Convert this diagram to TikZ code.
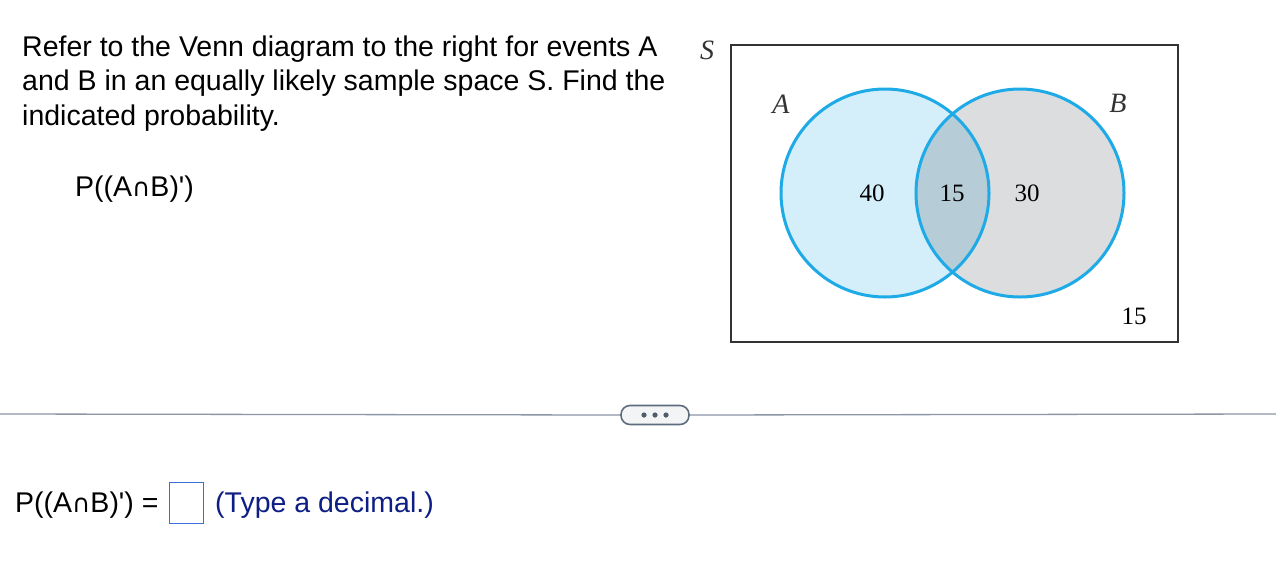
\documentclass[tikz,border=0pt]{standalone}
\usepackage{fontspec}
\newfontfamily\arial{Liberation Sans}
\newfontfamily\serifm{Liberation Serif}
\newfontfamily\djv{DejaVu Sans}
\newcommand{\capsym}{{\djv\fontsize{25}{26}\selectfont ∩}}
\definecolor{afill}{HTML}{D4EEFA}
\definecolor{bfill}{HTML}{DCDDDF}
\definecolor{abfill}{HTML}{B6CDD8}
\definecolor{vstroke}{HTML}{1EAAE6}
\definecolor{rule}{HTML}{8C96A6}
\definecolor{btnstroke}{HTML}{5E6D7D}
\definecolor{btnfill}{HTML}{F3F4F6}
\definecolor{boxblue}{HTML}{3A6FD8}
\definecolor{navy}{HTML}{0D1E84}
\begin{document}
\begin{tikzpicture}[x=1pt,y=-1pt,
  body/.style={font=\arial\fontsize{28.5}{35}\selectfont, anchor=base west, inner sep=0pt},
  vlab/.style={font=\serifm\fontsize{25}{26}\selectfont, inner sep=0pt},
  setlab/.style={font=\serifm\itshape\fontsize{28}{30}\selectfont, text=black!80, inner sep=0pt}]
\useasboundingbox (0,0) rectangle (1276,574);
\fill[white] (0,0) rectangle (1276,574);
% question text
\node[body] (l1) at (22,56) {Refer to the Venn diagram to the right for events A};
\node[body] (l2) at (22,90) {and B in an equally likely sample space S. Find the};
\node[body] (l3) at (22,125) {indicated probability.};
\node[body] (q) at (75,196) {P((A\capsym B)')};
% Venn diagram
\node[draw=black!80, line width=2pt, minimum width=447pt, minimum height=297pt, inner sep=0pt, anchor=north west] (S) at (730,44) {};
\fill[afill] (885,193) circle (104);
\fill[bfill] (1020,193) circle (104);
\begin{scope}
\clip (885,193) circle (104);
\fill[abfill] (1020,193) circle (104);
\end{scope}
\draw[vstroke, line width=3pt] (885,193) circle (104);
\draw[vstroke, line width=3pt] (1020,193) circle (104);
\node[setlab] (Slab) at (707,50) {S};
\node[setlab] (Alab) at (781,104) {A};
\node[setlab] (Blab) at (1118,103) {B};
\node[vlab] (n40) at (872,193) {40};
\node[vlab] (n15) at (952,193) {15};
\node[vlab] (n30) at (1027,193) {30};
\node[vlab] (n15b) at (1134,316) {15};
% divider
\coordinate (dl) at (0,414);
\coordinate (dr) at (1276,414);
\node[draw=btnstroke, fill=btnfill, line width=1.6pt, rounded corners=9pt, minimum width=68pt, minimum height=19pt, inner sep=0pt] (btn) at (655,415) {};
\draw[rule, line width=1.3pt] (dl) -- (btn.west);
\draw[rule, line width=1.3pt] (btn.east) -- (dr);
\foreach \dx in {-11,0,11} \fill[btnstroke!85!black] ([xshift=\dx pt]btn.center) circle (2.6);
% answer
\node[body] (ans) at (15,512) {P((A\capsym B)') =};
\node[draw=boxblue, line width=1.3pt, minimum width=34pt, minimum height=41pt, inner sep=0pt, anchor=north west] (box) at (169,482) {};
\node[body, text=navy] (hint) at (215,512) {(Type a decimal.)};
\end{tikzpicture}
\end{document}
